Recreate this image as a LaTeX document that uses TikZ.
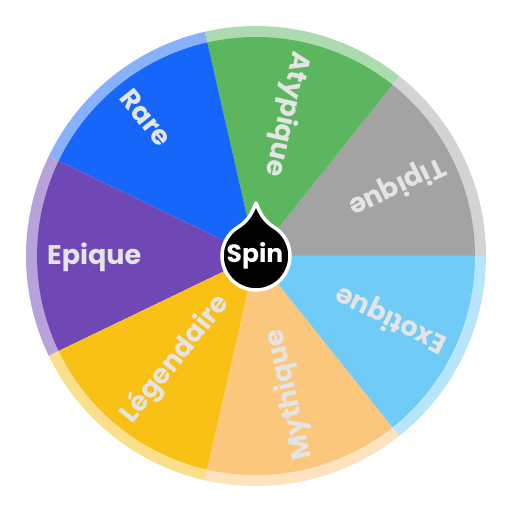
\documentclass[tikz,border=0pt]{standalone}
\usepackage{fontspec}
\setmainfont{Poppins}
\usetikzlibrary{calc}
\definecolor{cTip}{HTML}{A3A3A3}\definecolor{rTip}{HTML}{D3D3D3}
\definecolor{cAty}{HTML}{5CB55F}\definecolor{rAty}{HTML}{ADDBB0}
\definecolor{cRar}{HTML}{1666FA}\definecolor{rRar}{HTML}{87B2FB}
\definecolor{cEpi}{HTML}{7048B6}\definecolor{rEpi}{HTML}{B7A3DB}
\definecolor{cLeg}{HTML}{F9C016}\definecolor{rLeg}{HTML}{FCDF8A}
\definecolor{cMyt}{HTML}{FBC77C}\definecolor{rMyt}{HTML}{FDE3BE}
\definecolor{cExo}{HTML}{70CBF7}\definecolor{rExo}{HTML}{B7E5FB}
\definecolor{labelgray}{HTML}{E4E4E4}
\tikzset{
  seglabel/.style={text=labelgray, font=\fontsize{27}{27}\selectfont\bfseries, inner sep=0pt, anchor=base west},
}
\begin{document}
\begin{tikzpicture}[x=1pt,y=1pt]
\useasboundingbox (0,0) rectangle (512,512);
\fill[white] (0,0) rectangle (512,512);
\coordinate (C) at (256,256);
\def\segang{51.428571}
\foreach \i/\fc/\rc in {0/cTip/rTip,1/cAty/rAty,2/cRar/rRar,3/cEpi/rEpi,4/cLeg/rLeg,5/cMyt/rMyt,6/cExo/rExo}{
  \pgfmathsetmacro{\a}{\i*\segang}
  \pgfmathsetmacro{\b}{(\i+1)*\segang}
  \fill[\rc] (C) -- ++(\a:230) arc[start angle=\a, end angle=\b, radius=230] -- cycle;
  \fill[\fc] (C) -- ++(\a:219) arc[start angle=\a, end angle=\b, radius=219] -- cycle;
}
\foreach \i/\txt in {0/Tipique,1/Atypique,2/Rare,3/Epique,4/Légendaire,5/Mythique,6/Exotique}{
  \pgfmathsetmacro{\m}{(\i+0.5)*\segang}
  \pgfmathsetmacro{\r}{\m+180}
  \pgfmathsetmacro{\d}{\r-90}
  \node[seglabel, rotate=\r] (L\i) at ($(C)+(\m:209)+(\d:9)$) {\txt};
}
\fill[black, draw=white, line width=3.5pt, line join=round]
  (256,256) ++(60:34) .. controls (256+7,256+36) and (256+3,256+45) .. (256,256+53)
  .. controls (256-3,256+45) and (256-7,256+36) .. ($(C)+(120:34)$)
  arc[start angle=120, end angle=420, radius=34] -- cycle;
\node[text=white, font=\fontsize{25}{25}\selectfont\bfseries, inner sep=0pt, anchor=base] (spin) at (255,249) {Spin};
\end{tikzpicture}
\end{document}
